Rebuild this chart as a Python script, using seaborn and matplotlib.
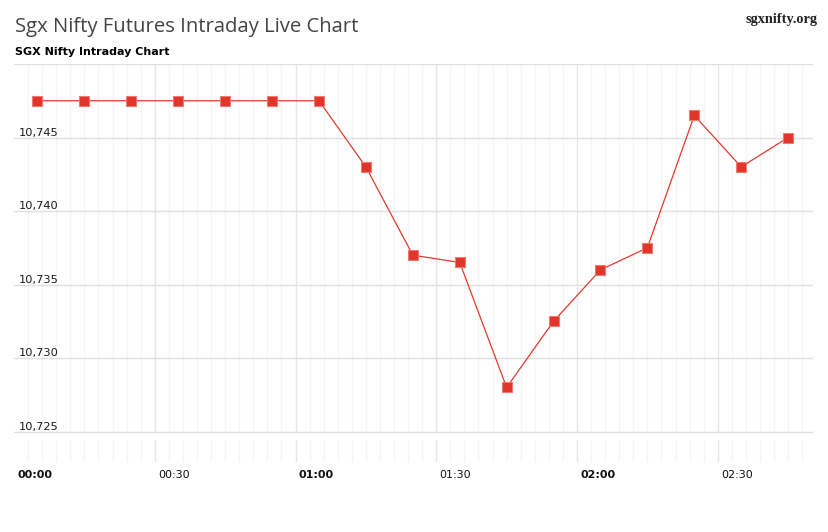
import matplotlib
matplotlib.use("Agg")
import matplotlib.pyplot as plt
import matplotlib.transforms as mtransforms
import seaborn as sns
import numpy as np
import pandas as pd

# data (time of day, price)
times = ["00:05", "00:15", "00:25", "00:35", "00:45", "00:55", "01:05", "01:15", "01:25",
         "01:35", "01:45", "01:55", "02:05", "02:15", "02:25", "02:35", "02:45"]
prices = [10747.5, 10747.5, 10747.5, 10747.5, 10747.5, 10747.5, 10747.5, 10743.0, 10737.0,
          10736.5, 10728.0, 10732.5, 10736.0, 10737.5, 10746.5, 10743.0, 10745.0]
y_ticks = [10725, 10730, 10735, 10740, 10745]
x_ticks = ["00:00", "00:30", "01:00", "01:30", "02:00", "02:30"]


def to_minutes(t):
    h, m = t.split(":")
    return int(h) * 60 + int(m)


df = pd.DataFrame({"minute": [to_minutes(t) for t in times], "price": prices})

sns.set_style("white")
plt.rcParams["font.family"] = ["DejaVu Sans"]

fig = plt.figure(figsize=(8.29, 5.32), dpi=100)
ax = fig.add_axes([14 / 829, 1 - 462 / 532, (813 - 14) / 829, (462 - 64) / 532])

ax.set_xlim(0, 170.3)
ax.set_ylim(10722.93, 10750)

# vertical grid: faint every 3 min, a bit darker every 30 min
for m in np.arange(3, 171, 3):
    major = m % 30 == 0
    ax.axvline(m, color="#e6e6e6" if major else "#f5f5f5", lw=1.0, zorder=0)
# horizontal grid
for v in y_ticks + [10750]:
    ax.axhline(v, color="#e0e0e0", lw=1.0, zorder=1)
# small gap under the lowest gridline
ax.axhspan(10724.45, 10724.93, color="white", lw=0, zorder=0.5)

sns.lineplot(data=df, x="minute", y="price", ax=ax, color="#e4392e", lw=0.9,
             marker="s", markersize=7, markerfacecolor="#e0352b",
             markeredgecolor="#f07a70", markeredgewidth=0.8, zorder=3)

for s in ax.spines.values():
    s.set_visible(False)
ax.set_xticks([])
ax.set_yticks([])
ax.set_xlabel("")
ax.set_ylabel("")

# y labels sit inside the plot, just above their gridline
ytrans = mtransforms.blended_transform_factory(fig.transFigure, ax.transData)
for v in y_ticks:
    ax.text(19 / 829, v, f"{v:,}", transform=ytrans, fontsize=8.2, color="#1a1a1a",
            ha="left", va="bottom")

# x labels, full hours in bold
xtrans = mtransforms.blended_transform_factory(ax.transData, fig.transFigure)
for t in x_ticks:
    m = to_minutes(t)
    bold = t.endswith(":00")
    ax.text(m + 0.7, 1 - 475 / 532, t, transform=xtrans, fontsize=8,
            fontweight="bold" if bold else "normal", color="#111111",
            ha="left", va="center")

fig.text(15 / 829, 1 - 27 / 532, "Sgx Nifty Futures Intraday Live Chart",
         fontsize=14.6, family="Open Sans", fontstretch="normal", fontweight="normal",
         color="#444444", ha="left", va="center")
fig.text(15 / 829, 1 - 52 / 532, "SGX Nifty Intraday Chart", fontsize=8,
         fontweight="bold", color="#000000", ha="left", va="center")
fig.text(818 / 829, 1 - 19 / 532, "sgxnifty.org", fontsize=10.3, family="Liberation Serif",
         fontweight="bold", color="#222222", ha="right", va="center")

fig.savefig("out.png", dpi=100)
plt.close(fig)
